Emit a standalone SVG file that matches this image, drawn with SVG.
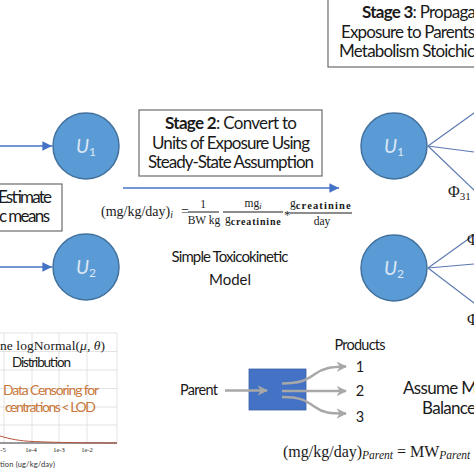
<svg xmlns="http://www.w3.org/2000/svg" width="474" height="474" viewBox="0 0 474 474">
<defs>
<style>
.sans{font-family:Lato,"Liberation Sans",sans-serif;fill:#1a1a1a}
.serif{font-family:"Liberation Serif","DejaVu Serif",serif;fill:#1a1a1a}
.box{fill:#fff;stroke:#6b6b6b;stroke-width:1.2}
.node{fill:#5B9BD5;stroke:#41719C;stroke-width:1.5}
.ulab{font-family:Lato,"Liberation Sans",sans-serif;fill:#dde8f5;font-size:19px}
.blue{stroke:#4472C4;stroke-width:1.6;fill:none}
.thin{stroke:#5a78b0;stroke-width:1.1;fill:none}
.gray{stroke:#a8a8a8;stroke-width:2.6;fill:none}
.grid{stroke:#dcdcdc;stroke-width:0.8}
.bar{stroke:#1a1a1a;stroke-width:1}
</style>
<marker id="ab" viewBox="0 0 10 10" refX="10" refY="5" markerWidth="6" markerHeight="6" markerUnits="strokeWidth" orient="auto">
<path d="M0,0 L10,5 L0,10 z" fill="#4472C4"/>
</marker>
<marker id="ag" viewBox="0 0 10 10" refX="9" refY="5" markerWidth="4" markerHeight="4" markerUnits="strokeWidth" orient="auto">
<path d="M0,0 L10,5 L0,10 L3,5 z" fill="#a8a8a8"/>
</marker>
</defs>
<rect width="474" height="474" fill="#fff"/>

<g id="connectors">
<line class="blue" x1="0" y1="146" x2="52" y2="146" marker-end="url(#ab)"/>
<line class="blue" x1="0" y1="267" x2="52" y2="267" marker-end="url(#ab)"/>
<line class="blue" x1="123" y1="188" x2="339" y2="188" marker-end="url(#ab)"/>
<line class="thin" x1="428" y1="146" x2="474" y2="113"/>
<line class="thin" x1="428" y1="146" x2="474" y2="152"/>
<line class="thin" x1="428" y1="146" x2="474" y2="190"/>
<line class="thin" x1="428" y1="268" x2="474" y2="235"/>
<line class="thin" x1="428" y1="268" x2="474" y2="264"/>
<line class="thin" x1="428" y1="268" x2="474" y2="303"/>
</g>

<g id="stage1-box">
<rect class="box" x="-5" y="184" width="67" height="47"/>
<text class="sans" x="-2" y="203" font-size="17" textLength="54">Estimate</text>
<text class="sans" x="-1" y="222" font-size="17" textLength="51">c means</text>
</g>

<g id="node-U1-left">
<circle class="node" cx="86" cy="146" r="33"/>
<text class="ulab" x="86" y="153" text-anchor="middle"><tspan font-style="italic">U</tspan><tspan font-size="12" dy="3">1</tspan></text>
</g>
<g id="node-U2-left">
<circle class="node" cx="86" cy="267" r="33"/>
<text class="ulab" x="86" y="274" text-anchor="middle"><tspan font-style="italic">U</tspan><tspan font-size="12" dy="3">2</tspan></text>
</g>
<g id="node-U1-right">
<circle class="node" cx="394" cy="146" r="33"/>
<text class="ulab" x="394" y="153" text-anchor="middle"><tspan font-style="italic">U</tspan><tspan font-size="12" dy="3">1</tspan></text>
</g>
<g id="node-U2-right">
<circle class="node" cx="394" cy="268" r="33"/>
<text class="ulab" x="394" y="275" text-anchor="middle"><tspan font-style="italic">U</tspan><tspan font-size="12" dy="3">2</tspan></text>
</g>

<g id="phi-labels">
<text class="serif" x="448" y="197" font-size="16">Φ<tspan font-size="11" dy="3">31</tspan></text>
<text class="serif" x="467" y="245" font-size="16">Φ</text>
<text class="serif" x="467" y="325" font-size="16">Φ</text>
</g>

<g id="stage2-box">
<rect class="box" x="139" y="110" width="183" height="66"/>
<text class="sans" x="231" y="129" font-size="17" text-anchor="middle" textLength="132"><tspan font-weight="bold">Stage 2</tspan>:  Convert to</text>
<text class="sans" x="231" y="149" font-size="17" text-anchor="middle" textLength="158">Units of Exposure Using</text>
<text class="sans" x="231" y="168" font-size="17" text-anchor="middle" textLength="166">Steady-State Assumption</text>
</g>

<g id="stage2-formula" class="serif">
<text x="101" y="216" font-size="14">(mg/kg/day)<tspan font-style="italic" font-size="10" dy="2">i</tspan></text>
<text x="181" y="216" font-size="14">=</text>
<text x="203" y="208" font-size="11.5" text-anchor="middle">1</text>
<line class="bar" x1="188" y1="212" x2="219" y2="212"/>
<text x="204" y="224" font-size="11.5" text-anchor="middle">BW kg</text>
<text x="253" y="207" font-size="11.5" text-anchor="middle">mg<tspan font-style="italic" font-size="8.5" dy="2">i</tspan></text>
<line class="bar" x1="223" y1="212" x2="283" y2="212"/>
<text x="225" y="223" font-size="11.5">g<tspan font-size="10" font-weight="bold" dy="2" textLength="50">creatinine</tspan></text>
<text x="284" y="219" font-size="13">*</text>
<text x="290" y="207" font-size="11.5">g<tspan font-size="10.5" font-weight="bold" dy="2" textLength="55">creatinine</tspan></text>
<line class="bar" x1="290" y1="213" x2="352" y2="213"/>
<text x="322" y="225" font-size="11.5" text-anchor="middle">day</text>
</g>

<g id="toxicokinetic-label">
<text class="sans" x="230" y="262" font-size="15" text-anchor="middle" textLength="117">Simple Toxicokinetic</text>
<text class="sans" x="230" y="285" font-size="15" text-anchor="middle">Model</text>
</g>

<g id="stage3-box">
<rect class="box" x="328" y="-5" width="160" height="72"/>
<text class="sans" x="362" y="18" font-size="17" textLength="114"><tspan font-weight="bold">Stage 3</tspan>:  Propaga</text>
<text class="sans" x="341" y="38" font-size="17" textLength="134">Exposure to Parents</text>
<text class="sans" x="339" y="57" font-size="17" textLength="136">Metabolism Stoichic</text>
</g>

<g id="chart">
<g class="grid">
<line x1="0" y1="333" x2="117" y2="333"/>
<line x1="0" y1="351.5" x2="117" y2="351.5"/>
<line x1="0" y1="370" x2="117" y2="370"/>
<line x1="0" y1="388.5" x2="117" y2="388.5"/>
<line x1="0" y1="407" x2="117" y2="407"/>
<line x1="0" y1="425" x2="117" y2="425"/>
<line x1="4" y1="333" x2="4" y2="443"/>
<line x1="32" y1="333" x2="32" y2="443"/>
<line x1="59" y1="333" x2="59" y2="443"/>
<line x1="87" y1="333" x2="87" y2="443"/>
<line x1="117" y1="333" x2="117" y2="443"/>
</g>
<line x1="0" y1="443" x2="117" y2="443" stroke="#333" stroke-width="1"/>
<path d="M0,436 C10,439 20,441 33,441.5 S60,442.8 117,443" fill="none" stroke="#b5533c" stroke-width="1"/>
<text class="serif" x="0" y="350" font-size="13.5" textLength="105">ne logNormal(<tspan font-style="italic">μ</tspan>, <tspan font-style="italic">θ</tspan>)</text>
<text class="sans" x="41.5" y="367" font-size="13.5" text-anchor="middle" textLength="59">Distribution</text>
<text class="sans" x="3" y="395" font-size="14" textLength="96" style="fill:#c9773a">Data Censoring for</text>
<text class="sans" x="5" y="412" font-size="14" textLength="91" style="fill:#c9773a">centrations &lt; LOD</text>
<g class="serif" font-size="6.5" text-anchor="middle" fill="#444">
<text x="3" y="452">-5</text>
<text x="31" y="452">1e-4</text>
<text x="59" y="452">1e-3</text>
<text x="87" y="452">1e-2</text>
</g>
<text class="sans" x="0" y="467" font-size="7.5" textLength="55" style="fill:#333">tion (ug/kg/day)</text>
</g>

<g id="mass-balance">
<text class="sans" x="360" y="350" font-size="14.5" text-anchor="middle" textLength="51">Products</text>
<text class="sans" x="180" y="395" font-size="14.5" textLength="38">Parent</text>
<rect x="249" y="369" width="57" height="41" fill="#4472C4" stroke="#3a62a8" stroke-width="0.8"/>
<path class="gray" d="M225,390.5 H267" marker-end="url(#ag)"/>
<path class="gray" d="M282,383.5 C300,383 305,381 315,374 C323,368 330,367 346,366.5" marker-end="url(#ag)"/>
<path class="gray" d="M282,391 H346" marker-end="url(#ag)"/>
<path class="gray" d="M282,397 C300,397 305,400 315,407 C323,413 330,413.5 346,413.5" marker-end="url(#ag)"/>
<text class="sans" x="360" y="372" font-size="14.5" text-anchor="middle">1</text>
<text class="sans" x="360" y="396" font-size="14.5" text-anchor="middle">2</text>
<text class="sans" x="360" y="422" font-size="14.5" text-anchor="middle">3</text>
<text class="sans" x="403" y="394" font-size="17" textLength="74">Assume M</text>
<text class="sans" x="422" y="414" font-size="17" textLength="54">Balance</text>
<text class="serif" x="283" y="457" font-size="16">(mg/kg/day)<tspan font-style="italic" font-size="11.5" dy="2">Parent</tspan><tspan dy="-2"> = MW</tspan><tspan font-style="italic" font-size="11.5" dy="2">Parent</tspan></text>
</g>
</svg>
